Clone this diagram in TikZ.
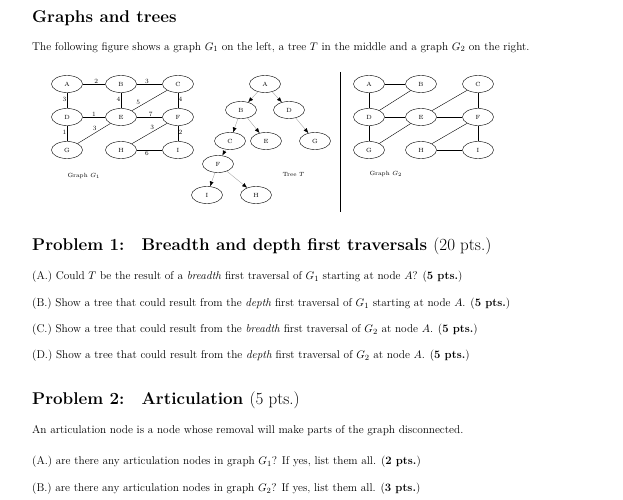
\documentclass[tikz,border=0pt]{standalone}
\usetikzlibrary{arrows.meta,shapes.geometric}
\begin{document}
\begin{tikzpicture}[x=1pt,y=-1pt,
  vtx/.style={draw,ellipse,minimum width=31pt,minimum height=17pt,inner sep=0pt,font=\fontsize{6}{7}\selectfont},
  wt/.style={font=\fontsize{6.5}{7}\selectfont,inner sep=0.5pt},
  capt/.style={font=\fontsize{6}{7}\selectfont,anchor=west},
  tr/.style={draw=gray!70,-{Latex[length=5pt,width=4pt,black]}},
  txt/.style={anchor=west,inner sep=0pt,font=\fontsize{11.3}{14}\selectfont},
  hd/.style={anchor=west,inner sep=0pt,font=\fontsize{17}{20}\selectfont\bfseries}]
\useasboundingbox (0,0) rectangle (623,500);
\node[anchor=west,inner sep=0pt,font=\fontsize{17}{20}\selectfont\bfseries] (title) at (32,18) {Graphs and trees};
\node[anchor=north west,inner sep=0pt,text width=556pt,align=justify,font=\fontsize{11.3}{14.5}\selectfont] (intro) at (32,42) {The following figure shows a graph $G_1$ on the left, a tree $T$ in the middle and a graph $G_2$ on the right.};
% Graph G1
\foreach \n/\x/\y in {A/67/84,B/121/84,C/178/84,D/67/117,E/121/117,F/178/117,G/67/150,H/121/150,I/178/150}
  \node[vtx] (a\n) at (\x,\y) {\n};
\draw (aA) -- node[wt,above,pos=0.6]{2} (aB);
\draw (aB) -- node[wt,above,pos=0.4]{3} (aC);
\draw (aA) -- node[wt,left,pos=0.4]{3} (aD);
\draw (aB) -- node[wt,left,pos=0.4]{4} (aE);
\draw (aC) -- node[wt,above left,pos=0.75]{5} (aE);
\draw (aC) -- node[wt,right,pos=0.4]{4} (aF);
\draw (aD) -- node[wt,above]{1} (aE);
\draw (aE) -- node[wt,above,pos=0.55]{7} (aF);
\draw (aD) -- node[wt,left,pos=0.4]{1} (aG);
\draw (aE) -- node[wt,above left,pos=0.4]{3} (aG);
\draw (aF) -- node[wt,above left,pos=0.35]{3} (aH);
\draw (aF) -- node[wt,right,pos=0.4]{2} (aI);
\draw (aH) -- node[wt,below,pos=0.4]{6} (aI);
\node[capt] (c1) at (64,176) {Graph $G_1$};
% Tree T
\foreach \n/\x/\y in {A/265/84,B/241/110,D/289/110,C/230/141,E/266/141,G/315/141,F/218/164,I/207/195,H/256/195}
  \node[vtx] (t\n) at (\x,\y) {\n};
\draw[tr] (tA) -- (tB); \draw[tr] (tA) -- (tD);
\draw[tr] (tB) -- (tC); \draw[tr] (tB) -- (tE);
\draw[tr] (tD) -- (tG); \draw[tr] (tC) -- (tF);
\draw[tr] (tF) -- (tI); \draw[tr] (tF) -- (tH);
\node[capt] (c2) at (279,174) {Tree $T$};
\coordinate (l1) at (340,72); \coordinate (l2) at (340,212);
\draw (l1) -- (l2);
% Graph G2
\foreach \n/\x/\y in {A/369/84,B/421/84,C/478/84,D/369/117,E/421/117,F/478/117,G/369/150,H/421/150,I/478/150}
  \node[vtx] (b\n) at (\x,\y) {\n};
\draw (bA) -- (bB); \draw (bA) -- (bD); \draw (bB) -- (bD);
\draw (bC) -- (bE); \draw (bC) -- (bF); \draw (bD) -- (bE);
\draw (bE) -- (bF); \draw (bD) -- (bG); \draw (bE) -- (bG);
\draw (bF) -- (bH); \draw (bF) -- (bI); \draw (bH) -- (bI);
\node[capt] (c3) at (366,174) {Graph $G_2$};
% Problems
\node[hd] (p1) at (32,246) {Problem 1:\quad Breadth and depth first traversals \mdseries(20 pts.)};
\node[txt] (q1) at (32,277) {(A.) Could $T$ be the result of a \emph{breadth} first traversal of $G_1$ starting at node $A$? (\textbf{5 pts.})};
\node[txt] (q2) at (32,304) {(B.) Show a tree that could result from the \emph{depth} first traversal of $G_1$ starting at node $A$. (\textbf{5 pts.})};
\node[txt] (q3) at (32,330) {(C.) Show a tree that could result from the \emph{breadth} first traversal of $G_2$ at node $A$. (\textbf{5 pts.})};
\node[txt] (q4) at (32,356) {(D.) Show a tree that could result from the \emph{depth} first traversal of $G_2$ at node $A$. (\textbf{5 pts.})};
\node[hd] (p2) at (32,400) {Problem 2:\quad Articulation \mdseries(5 pts.)};
\node[txt] (r0) at (32,431) {An articulation node is a node whose removal will make parts of the graph disconnected.};
\node[txt] (r1) at (32,462) {(A.) are there any articulation nodes in graph $G_1$? If yes, list them all. (\textbf{2 pts.})};
\node[txt] (r2) at (32,489) {(B.) are there any articulation nodes in graph $G_2$? If yes, list them all. (\textbf{3 pts.})};
\end{tikzpicture}
\end{document}
